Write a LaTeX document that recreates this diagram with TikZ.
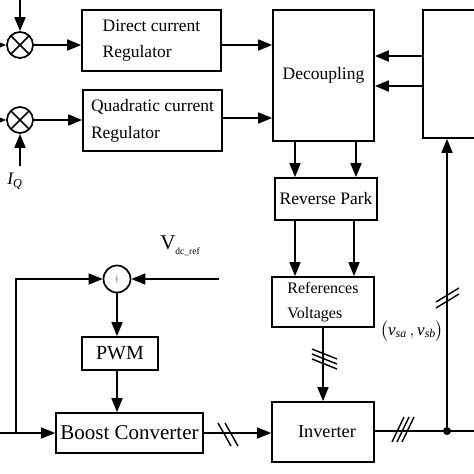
\documentclass[tikz,border=0pt]{standalone}
\usepackage{fontspec}
\setmainfont{Liberation Serif}
\usepackage{amsmath}
\usetikzlibrary{arrows.meta}

\tikzset{
  blk/.style={draw, line width=1.7pt, align=left, inner sep=0pt},
  sumx/.style={draw, circle, minimum size=26pt, inner sep=0pt, line width=1.7pt,
    path picture={\draw[line width=1.7pt]
      (path picture bounding box.north west) -- (path picture bounding box.south east)
      (path picture bounding box.north east) -- (path picture bounding box.south west);}},
  sig/.style={line width=1.7pt, -{Triangle[length=14pt,width=11pt]}},
  wire/.style={line width=1.7pt},
  tick/.style={line width=1.4pt},
}

\begin{document}
\begin{tikzpicture}[x=1pt,y=-1pt,font=\fontsize{17.5}{26}\selectfont]
\useasboundingbox (0,0) rectangle (474,474);
% summing points
\node[sumx] (s1) at (20,45) {};
\node[sumx] (s2) at (20,120) {};
\node[draw,circle,minimum size=27pt,inner sep=0pt,line width=1.7pt,font=\footnotesize] (s3) at (117,279) {$\cdot\!|\!\cdot$};
% blocks
\node[blk,minimum width=139pt,minimum height=61pt] (dcr) at (151.5,40.5) {Direct current\\Regulator};
\node[blk,minimum width=139pt,minimum height=61pt,font=\fontsize{17.5}{27}\selectfont] (qcr) at (152.5,120.5) {Quadratic current\\Regulator};
\node[blk,minimum width=101pt,minimum height=131pt] (dec) at (323.5,75.5) {Decoupling};
\node[blk,minimum width=100pt,minimum height=128pt] (ctl) at (473,74) {};
\node[blk,minimum width=102pt,minimum height=42pt] (rpk) at (326,199) {Reverse Park};
\node[blk,minimum width=102pt,minimum height=50pt,font=\fontsize{16}{25}\selectfont] (ref) at (323,302) {References\\Voltages};
\node[blk,minimum width=102pt,minimum height=60pt,font=\fontsize{18.3}{22}\selectfont] (inv) at (323,432) {\hspace*{8pt}Inverter};
\node[blk,minimum width=147pt,minimum height=40pt,font=\fontsize{21}{25}\selectfont] (bst) at (129.5,433) {Boost Converter};
\node[blk,minimum width=76pt,minimum height=33pt,font=\fontsize{20}{24}\selectfont] (pwm) at (120,353.5) {PWM};
% labels
\node (iq) at (15,181) {$\textit{I}_{\textit{Q}}$};
\node[font=\fontsize{21}{25}\selectfont] (vdc) at (180,246) {V\raisebox{-5pt}{\fontsize{9.5}{11}\selectfont dc\_ref}};
\node[font=\fontsize{17}{20}\selectfont] (vsab) at (412,331) {$\bigl(\textit{v}_{\textit{sa}}\,,\textit{v}_{\textit{sb}}\bigr)$};
% free ends
\coordinate (top1) at (20,0);
\coordinate (in1) at (0,45);
\coordinate (in2) at (0,120);
\coordinate (iqs) at (20,166);
\coordinate (vin) at (219,279);
\coordinate (dcin) at (0,433);
\coordinate (fb) at (16,433);
\coordinate (out) at (474,431);
\node[fill,circle,inner sep=0pt,minimum size=8pt] (dot) at (447,431) {};
% current loops
\draw[sig] (top1) -- (s1);
\draw[sig] (in1) -- (s1);
\draw[sig] (in2) -- (s2);
\draw[sig] (iqs) -- (s2);
\draw[sig] (s1) -- (s1 -| dcr.west);
\draw[sig] (s2) -- (s2 -| qcr.west);
\draw[sig] (dcr.east |- s1) -- (dec.west |- s1);
\draw[sig] (qcr.east |- 0,118) -- (dec.west |- 0,118);
\draw[sig] (ctl.west |- 0,56) -- (dec.east |- 0,56);
\draw[sig] (ctl.west |- 0,86) -- (dec.east |- 0,86);
\draw[sig] (dec.south -| 295,0) -- (rpk.north -| 295,0);
\draw[sig] (dec.south -| 356,0) -- (rpk.north -| 356,0);
\draw[sig] (rpk.south -| 295,0) -- (ref.north -| 295,0);
\draw[sig] (rpk.south -| 354,0) -- (ref.north -| 354,0);
\draw[sig] (ref) -- (inv);
% dc link
\draw[sig] (vin) -- (s3);
\draw[sig] (fb) |- (s3);
\draw[sig] (s3) -- (s3 |- pwm.north);
\draw[sig] (pwm.south -| s3) -- (s3 |- bst.north);
\draw[sig] (dcin) -- (bst);
\draw[sig] (bst) -- (bst -| inv.west);
\draw[wire] (inv.east |- out) -- (out);
\draw[sig] (dot) -- (dot |- ctl.south);
% bus marks
\draw[tick] (218,423) -- (231,446) (225,423) -- (238,446);
\draw[tick] (392,442) -- (404,417) (397,442) -- (409,417) (402,442) -- (414,417);
\draw[tick] (436,302) -- (459,288) (436,308) -- (459,294);
\draw[tick] (312,349) -- (337,359) (312,354) -- (337,364) (312,359) -- (337,369);
\end{tikzpicture}
\end{document}
